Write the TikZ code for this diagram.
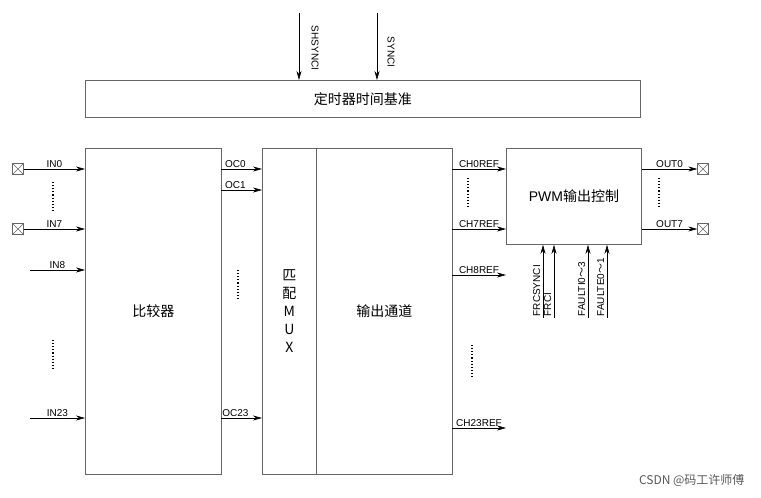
\documentclass[tikz,border=0pt]{standalone}
\usepackage{fontspec}
\setmainfont{Liberation Sans}
\newfontfamily\cjk{Noto Sans CJK SC}
\usetikzlibrary{arrows.meta}
\begin{document}
\begin{tikzpicture}[x=1pt,y=-1pt,
  blk/.style={draw=gray!80!black,line width=0.8pt},
  sig/.style={line width=0.6pt,-{Stealth[length=9pt,width=5pt]}},
  lbl/.style={font=\fontsize{10}{11}\selectfont,inner sep=1.5pt},
  dots/.style={dotted,line width=1.1pt},
  xbox/.style={draw=gray!80!black,minimum size=11pt,inner sep=0pt,path picture={\draw[gray!80!black] (path picture bounding box.north west)--(path picture bounding box.south east)(path picture bounding box.south west)--(path picture bounding box.north east);}}]
\useasboundingbox (0,0) rectangle (761,498);
% top
\node[blk,minimum width=555pt,minimum height=37pt,anchor=north west,font=\cjk\fontsize{14}{16}\selectfont] (tb) at (85,80) {定时器时间基准};
\coordinate (s1) at (299,13); \coordinate (s2) at (377,13);
\draw[sig] (s1) -- (s1 |- tb.north);
\draw[sig] (s2) -- (s2 |- tb.north);
\node[lbl,rotate=-90] at (315,48) {SHSYNCI};
\node[lbl,rotate=-90] at (391,52) {SYNCI};
% blocks
\node[blk,minimum width=136pt,minimum height=326pt,anchor=north west,font=\cjk\fontsize{14}{16}\selectfont] (cmp) at (85,148) {比较器};
\node[blk,minimum width=54pt,minimum height=326pt,anchor=north west,align=center,font=\cjk\fontsize{14}{18}\selectfont] (mux) at (262,148) {匹\\配\\M\\U\\X};
\node[blk,minimum width=136pt,minimum height=326pt,anchor=north west,font=\cjk\fontsize{14}{16}\selectfont] (och) at (316,148) {输出通道};
\node[blk,minimum width=135pt,minimum height=96pt,anchor=north west,font=\fontsize{14}{16}\selectfont] (pwm) at (506,148) {PWM{\cjk 输出控制}};
% inputs
\node[xbox] (x0) at (18,169) {};
\node[xbox] (x7) at (18,229) {};
\draw[sig] (x0.east) -- (x0.east -| cmp.west) node[lbl,midway,above] {IN0};
\draw[sig] (x7.east) -- (x7.east -| cmp.west) node[lbl,midway,above] {IN7};
\coordinate (i8) at (30,270); \coordinate (i23) at (30,418);
\draw[sig] (i8) -- (i8 -| cmp.west) node[lbl,midway,above] {IN8};
\draw[sig] (i23) -- (i23 -| cmp.west) node[lbl,midway,above] {IN23};
\draw[dots] (53,182) -- (53,210);
\draw[dots] (53,340) -- (53,370);
% OC
\foreach \y/\t in {169/OC0,190/OC1,418/OC23}{
  \coordinate (oc) at (221,\y);
  \draw[sig] (oc) -- (oc -| mux.west) node[lbl,pos=0.35,above] {\t};}
\draw[dots] (238,270) -- (238,300);
% CH
\foreach \y/\t in {169/CH0REF,229/CH7REF}{
  \coordinate (ch) at (452,\y);
  \draw[sig] (ch) -- (ch -| pwm.west) node[lbl,midway,above] {\t};}
\foreach \y/\t in {275/CH8REF,428/CH23REF}{
  \coordinate (ch) at (452,\y);
  \draw[sig] (ch) -- +(54,0) node[lbl,midway,above] {\t};}
\draw[dots] (468,178) -- (468,207);
\draw[dots] (472,345) -- (472,378);
% OUT
\node[xbox] (o0) at (703,169) {};
\node[xbox] (o7) at (703,229) {};
\draw[sig] (o0 -| pwm.east) -- (o0.west) node[lbl,midway,above] {OUT0};
\draw[sig] (o7 -| pwm.east) -- (o7.west) node[lbl,midway,above] {OUT7};
\draw[dots] (659,178) -- (659,207);
% bottom signals
\foreach \x/\t in {543/FRCSYNCI,554/FRCI,588/FAULTI0{\cjk ～}3,607/FAULTE0{\cjk ～}1}{
  \coordinate (b) at (\x,318);
  \draw[sig] (b) -- (b |- pwm.south);
  \node[lbl,rotate=90,anchor=south west] at (\x-1,318) {\t};}
\node[font=\cjk\fontsize{12}{14}\selectfont,text=gray!70!black,anchor=east] (wm) at (748,480) {CSDN @码工许师傅};
\end{tikzpicture}
\end{document}
